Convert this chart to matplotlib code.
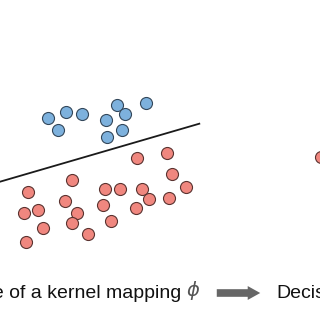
import matplotlib
matplotlib.use('Agg')
import matplotlib.pyplot as plt

# points in picture pixel space (x, y from top)
blueX = [47.7, 66, 82.3, 58, 117.3, 125, 145.7, 106.3, 122.3, 106.7]
blueY = [117.7, 112.3, 114, 130, 104.7, 114.3, 102.7, 120.3, 129.7, 136.7]

redX = [137, 166.7, 172.3, 185.7, 169, 149.3, 141.7, 135.7, 119.7, 105, 102.7, 111,
        72.3, 64.7, 77.3, 72.3, 88, 28.3, 38, 23.7, 43.3, 25.7, 321]
redY = [158, 152.7, 174.3, 187.3, 198, 199, 189, 208, 189, 189, 205.3, 220.7,
        180, 201.3, 212.7, 222.7, 234.3, 192, 209.7, 213.3, 228.3, 242, 157]

lineX = [0, 199.3]
lineY = [181.7, 123.7]

fig = plt.figure(figsize=(3.2, 3.2), dpi=100)
ax = fig.add_axes([0, 0, 1, 1])
ax.set_xlim(0, 320)
ax.set_ylim(320, 0)
ax.axis('off')

ax.plot(lineX, lineY, color='#1a1a1a', lw=1.3)
ax.scatter(blueX, blueY, s=75, c='#7db1dd', edgecolors='#33475a', linewidths=0.8, zorder=3)
ax.scatter(redX, redY, s=75, c='#f0877f', edgecolors='#5a3330', linewidths=0.8, zorder=3)

ax.text(181, 293, 'Use of a kernel mapping', ha='right', va='center', fontsize=14.0,
        family='Liberation Sans', color='#111111')
ax.text(193, 291, r'$\phi$', ha='center', va='center', fontsize=14, color='#555555')
ax.annotate('', xy=(263, 293), xytext=(214, 293),
            arrowprops=dict(arrowstyle='simple,head_width=1.0,head_length=0.9,tail_width=0.55',
                            color='#666666', lw=0))
ax.text(276, 293, 'Decision', ha='left', va='center', fontsize=14.0,
        family='Liberation Sans', color='#111111')

fig.savefig('out.png', dpi=100)
